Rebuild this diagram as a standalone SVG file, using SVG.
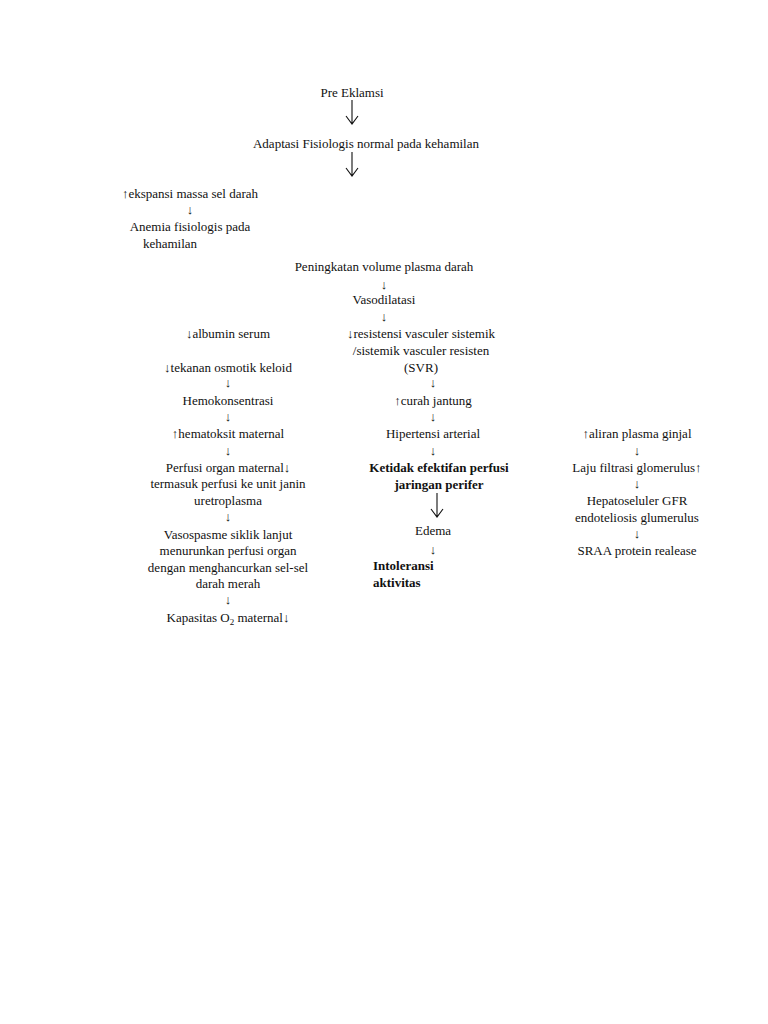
<svg xmlns="http://www.w3.org/2000/svg" width="768" height="1024" viewBox="0 0 768 1024">
<style>
text{font-family:"Liberation Serif","Times New Roman",serif;font-size:13px;fill:#111;text-anchor:middle}
.b{font-weight:bold}
.l{text-anchor:start}
.ar{fill:none;stroke:#111;stroke-width:1.1}
</style>
<rect width="768" height="1024" fill="#fff"/>
<g id="connectors">
<path class="ar" d="M352 100V124M346 116L352 124L358 116"/>
<path class="ar" d="M352 152V176M346 168L352 176L358 168"/>
<path class="ar" d="M437 493V517M431 509L437 517L443 509"/>
<text x="190" y="214">↓</text>
<text x="384" y="289">↓</text>
<text x="384" y="321">↓</text>
<text x="228" y="387">↓</text>
<text x="228" y="421">↓</text>
<text x="228" y="455">↓</text>
<text x="228" y="521">↓</text>
<text x="228" y="604">↓</text>
<text x="433" y="387">↓</text>
<text x="433" y="421">↓</text>
<text x="433" y="455">↓</text>
<text x="433" y="554">↓</text>
<text x="637" y="455">↓</text>
<text x="637" y="488">↓</text>
<text x="637" y="538">↓</text>
</g>
<g id="n1"><text x="352" y="97">Pre Eklamsi</text></g>
<g id="n2"><text x="366" y="148">Adaptasi Fisiologis normal pada kehamilan</text></g>
<g id="n3"><text x="190" y="198">↑ekspansi massa sel darah</text></g>
<g id="n4"><text x="190" y="231">Anemia fisiologis pada</text><text x="170" y="248">kehamilan</text></g>
<g id="n5"><text x="384" y="271">Peningkatan volume plasma darah</text></g>
<g id="n6"><text x="384" y="304">Vasodilatasi</text></g>
<g id="n7"><text x="228" y="338">↓albumin serum</text></g>
<g id="n8"><text x="421" y="338">↓resistensi vasculer sistemik</text><text x="421" y="355">/sistemik vasculer resisten</text><text x="421" y="372">(SVR)</text></g>
<g id="n9"><text x="228" y="372">↓tekanan osmotik keloid</text></g>
<g id="n10"><text x="228" y="405">Hemokonsentrasi</text></g>
<g id="n11"><text x="228" y="438">↑hematoksit maternal</text></g>
<g id="n12"><text x="228" y="472">Perfusi organ maternal↓</text><text x="228" y="488">termasuk perfusi ke unit janin</text><text x="228" y="505">uretroplasma</text></g>
<g id="n13"><text x="228" y="539">Vasospasme siklik lanjut</text><text x="228" y="555">menurunkan perfusi organ</text><text x="228" y="572">dengan menghancurkan sel-sel</text><text x="228" y="588">darah merah</text></g>
<g id="n14"><text x="228" y="622">Kapasitas O<tspan font-size="9" dy="3">2</tspan><tspan dy="-3"> maternal↓</tspan></text></g>
<g id="n15"><text x="433" y="405">↑curah jantung</text></g>
<g id="n16"><text x="433" y="438">Hipertensi arterial</text></g>
<g id="n17"><text class="b" x="439" y="472">Ketidak efektifan perfusi</text><text class="b" x="439" y="489">jaringan perifer</text></g>
<g id="n18"><text x="433" y="535">Edema</text></g>
<g id="n19"><text class="b l" x="373" y="570">Intoleransi</text><text class="b l" x="373" y="587">aktivitas</text></g>
<g id="n20"><text x="637" y="438">↑aliran plasma ginjal</text></g>
<g id="n21"><text x="637" y="472">Laju filtrasi glomerulus↑</text></g>
<g id="n22"><text x="637" y="505">Hepatoseluler GFR</text><text x="637" y="522">endoteliosis glumerulus</text></g>
<g id="n23"><text x="637" y="555">SRAA protein realease</text></g>
</svg>
